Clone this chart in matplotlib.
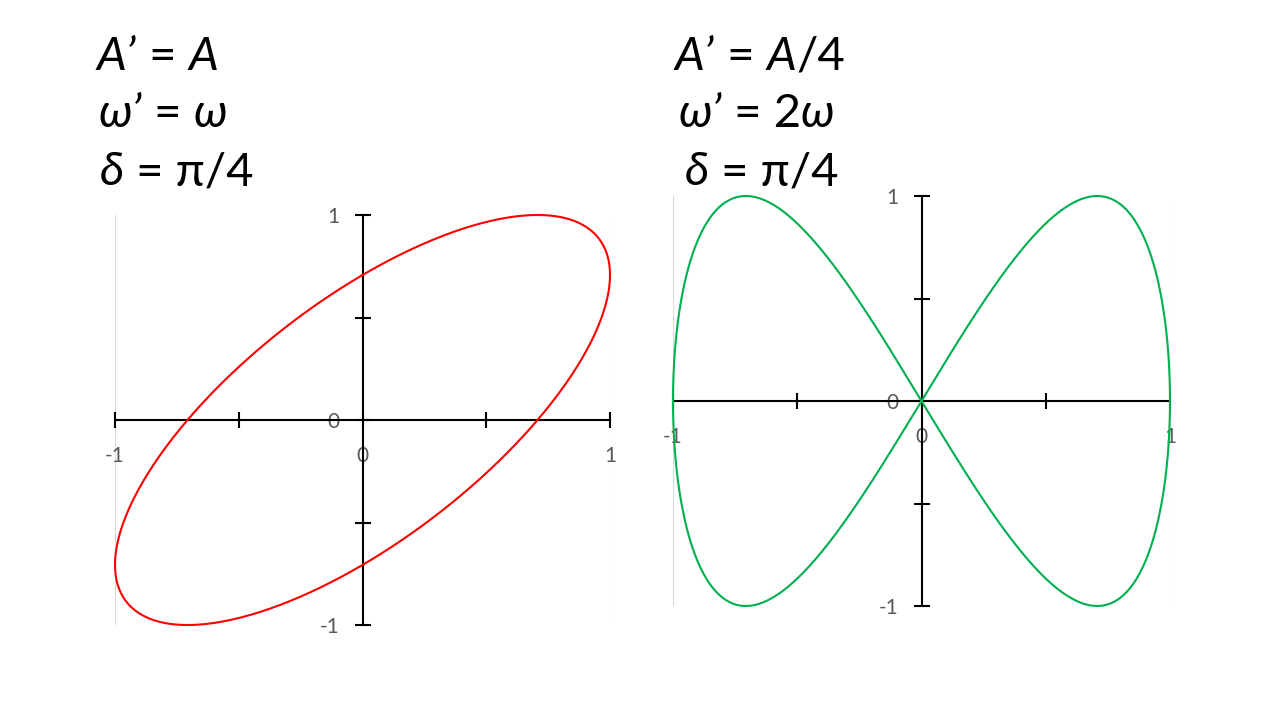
import numpy as np
import matplotlib
matplotlib.use("Agg")
import matplotlib.pyplot as plt

# curve parameters: x = sin(fx*t + px), y = sin(fy*t + py)
left_freq = [1, 1]
left_phase = [0.0, np.pi / 4]
right_freq = [1, 2]
right_phase = [np.pi / 4, np.pi / 2]

ticks = [-1, -0.5, 0, 0.5, 1]
tick_labels = ["-1", "", "0", "", "1"]

# annotation lines: (text, italic?) pieces
left_lines = [
    [("A\u2019", True), (" = ", False), ("A", True)],
    [("\u03c9\u2019", True), (" = ", False), ("\u03c9", True)],
    [("\u03b4", True), (" = \u03c0/4", False)],
]
right_lines = [
    [("A\u2019", True), (" = ", False), ("A", True), ("/4", False)],
    [("\u03c9\u2019", True), (" = 2", False), ("\u03c9", True)],
    [("\u03b4", True), (" = \u03c0/4", False)],
]

FONT = ["Lato", "DejaVu Sans"]


def write_lines(bg, lines, x_starts, baselines):
  for pieces, x0, y0 in zip(lines, x_starts, baselines):
    prev = None
    for txt, it in pieces:
      style = "italic" if it else "normal"
      if prev is None:
        prev = bg.annotate(txt, xy=(x0, y0), xycoords="data", ha="left", va="baseline",
                           fontsize=34, fontstyle=style, family=FONT, color="black")
      else:
        prev = bg.annotate(txt, xy=(1, 0), xycoords=prev, ha="left", va="bottom",
                           fontsize=34, fontstyle=style, family=FONT, color="black")


def draw_panel(fig, rect, freq, phase, color):
  t = np.linspace(0, 2 * np.pi, 600)
  x = np.sin(freq[0] * t + phase[0])
  y = np.sin(freq[1] * t + phase[1])

  ax = fig.add_axes(rect)
  ax.set_xlim(-1, 1)
  ax.set_ylim(-1, 1)
  ax.axvline(-1, color="#d9d9d9", lw=0.8, zorder=0)
  ax.axvline(1, color="#d9d9d9", lw=0.8, zorder=0)
  ax.plot(x, y, color=color, lw=1.5, clip_on=False, zorder=4)

  for side in ["top", "right"]:
    ax.spines[side].set_visible(False)
  for side in ["left", "bottom"]:
    ax.spines[side].set_position("zero")
    ax.spines[side].set_linewidth(1.5)
    ax.spines[side].set_zorder(3)
  ax.patch.set_visible(False)

  ax.set_xticks(ticks)
  ax.set_xticklabels(tick_labels)
  ax.set_yticks(ticks)
  ax.set_yticklabels(tick_labels)
  ax.tick_params(direction="inout", length=11, width=1.5, color="black",
                 labelcolor="#595959", labelsize=15)
  ax.tick_params(axis="x", pad=13)
  ax.tick_params(axis="y", pad=11)
  for lab in ax.get_xticklabels() + ax.get_yticklabels():
    lab.set_family(FONT)
  return ax


def main():
  fig = plt.figure(figsize=(12.8, 7.2), dpi=100)
  fig.patch.set_facecolor("white")

  bg = fig.add_axes([0, 0, 1, 1])
  bg.set_xlim(0, 1280)
  bg.set_ylim(720, 0)
  bg.axis("off")

  write_lines(bg, left_lines, [97, 98, 100], [70, 127, 185])
  write_lines(bg, right_lines, [675, 678, 685], [70, 127, 185])

  draw_panel(fig, [115 / 1280, 95 / 720, 495 / 1280, 410 / 720], left_freq, left_phase, "#ff0000")
  draw_panel(fig, [673 / 1280, 114 / 720, 497 / 1280, 410 / 720], right_freq, right_phase, "#00b050")

  fig.savefig("out.png", dpi=100, facecolor="white")


if __name__ == "__main__":
  main()
